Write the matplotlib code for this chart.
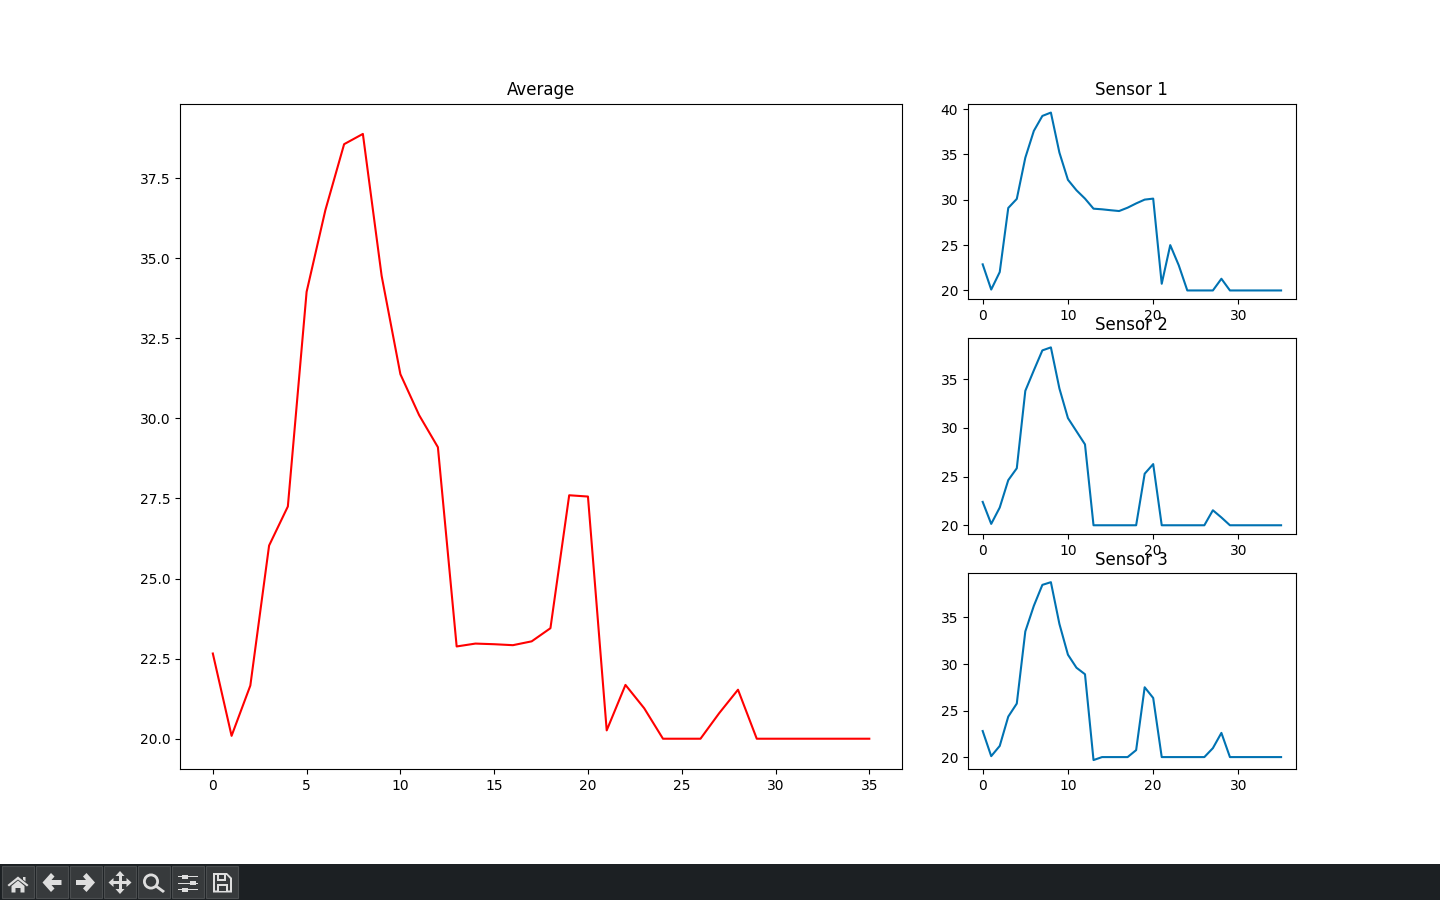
"""Average and per-sensor readings, with the viewer toolbar along the bottom."""

import matplotlib

matplotlib.use("Agg")

import matplotlib.pyplot as plt
from matplotlib.gridspec import GridSpec
from matplotlib.patches import Circle, Polygon, Rectangle

TIME = list(range(36))

AVERAGE = [
    22.66, 20.09, 21.66, 26.03, 27.25, 33.95, 36.5, 38.56, 38.88, 34.45,
    31.38, 30.1, 29.1, 22.88, 22.97, 22.95, 22.92, 23.04, 23.45, 27.6,
    27.56, 20.26, 21.68, 20.95, 20.0, 20.0, 20.0, 20.8, 21.53, 20.0,
    20.0, 20.0, 20.0, 20.0, 20.0, 20.0,
]
SENSOR_1 = [
    22.88, 20.1, 22.03, 29.1, 30.1, 34.64, 37.6, 39.25, 39.62, 35.2,
    32.2, 31.05, 30.13, 29.02, 28.95, 28.85, 28.76, 29.13, 29.6, 30.02,
    30.13, 20.74, 25.0, 22.77, 20.0, 20.0, 20.0, 20.0, 21.29, 20.0,
    20.0, 20.0, 20.0, 20.0, 20.0, 20.0,
]
SENSOR_2 = [
    22.4, 20.14, 21.82, 24.63, 25.85, 33.8, 35.9, 37.95, 38.26, 34.04,
    31.0, 29.65, 28.3, 20.0, 20.0, 20.0, 20.0, 20.0, 20.0, 25.29,
    26.28, 20.0, 20.0, 20.0, 20.0, 20.0, 20.0, 21.54, 20.8, 20.0,
    20.0, 20.0, 20.0, 20.0, 20.0, 20.0,
]
SENSOR_3 = [
    22.8, 20.1, 21.2, 24.35, 25.75, 33.5, 36.25, 38.5, 38.79, 34.3,
    31.0, 29.6, 28.9, 19.68, 20.0, 20.0, 20.0, 20.0, 20.75, 27.5,
    26.35, 20.0, 20.0, 20.0, 20.0, 20.0, 20.0, 20.96, 22.6, 20.0,
    20.0, 20.0, 20.0, 20.0, 20.0, 20.0,
]
SENSOR_TITLES = ["Sensor 1", "Sensor 2", "Sensor 3"]

SENSOR_COLOR = "#0072b2"
BAR_COLOR = "#1c2023"
BUTTON_COLOR = "#373a3c"
BUTTON_EDGE = "#4a4d4f"
ICON_COLOR = "#dedede"


def draw_icons(ax) -> None:
    def poly(points, fc=ICON_COLOR):
        ax.add_patch(Polygon(points, closed=True, fc=fc, ec="none"))

    # home
    poly([(18, 876.5), (28.5, 885), (27, 886.5), (18, 879.5), (9, 886.5), (7.5, 885)])
    poly([(11.5, 886), (18, 880.5), (24.5, 886), (24.5, 892.5), (20.5, 892.5), (20.5, 888), (15.5, 888), (15.5, 892.5), (11.5, 892.5)])
    poly([(23, 877), (25.5, 877), (25.5, 881.5), (23, 879.5)])
    # back and forward
    for cx, sign in [(52, -1), (85.5, 1)]:
        poly([
            (cx + sign * 9.5, 882.5), (cx + sign * 1, 873), (cx - sign * 2.5, 876.5), (cx + sign * 0.5, 880),
            (cx - sign * 9.5, 880), (cx - sign * 9.5, 885), (cx + sign * 0.5, 885), (cx - sign * 2.5, 888.5),
            (cx + sign * 1, 892),
        ])
    # pan
    cx, cy = 120, 882.5
    ax.add_patch(Rectangle((cx - 8, cy - 1.5), 16, 3, fc=ICON_COLOR, ec="none"))
    ax.add_patch(Rectangle((cx - 1.5, cy - 8), 3, 16, fc=ICON_COLOR, ec="none"))
    poly([(cx - 4.5, cy - 6.5), (cx, cy - 11.5), (cx + 4.5, cy - 6.5)])
    poly([(cx - 4.5, cy + 6.5), (cx, cy + 11.5), (cx + 4.5, cy + 6.5)])
    poly([(cx - 6.5, cy - 4.5), (cx - 11.5, cy), (cx - 6.5, cy + 4.5)])
    poly([(cx + 6.5, cy - 4.5), (cx + 11.5, cy), (cx + 6.5, cy + 4.5)])
    # zoom
    ax.add_patch(Circle((151, 881.5), 6.6, fc="none", ec=ICON_COLOR, lw=2.0))
    poly([(155.5, 887.5), (157.5, 885.5), (165, 891), (163, 893)])
    # sliders
    for y, knob in [(876.8, 184.5), (883.3, 193), (889.8, 185)]:
        ax.add_patch(Rectangle((178, y - 0.7), 20, 1.4, fc=ICON_COLOR, ec="none"))
        ax.add_patch(Rectangle((knob - 3, y - 2), 6, 4, fc=ICON_COLOR, ec="none"))
    # save
    poly([(213, 873), (227, 873), (232, 878), (232, 892.5), (213, 892.5)])
    poly([(215, 875), (217, 875), (217, 881), (226, 881), (226, 875), (226.5, 875), (230, 878.8), (230, 890.5), (215, 890.5)], fc=BUTTON_COLOR)
    poly([(217, 884), (228, 884), (228, 890.5), (217, 890.5)])
    poly([(218.8, 885.8), (226.2, 885.8), (226.2, 890.5), (218.8, 890.5)], fc=BUTTON_COLOR)
    poly([(218.8, 875), (224.2, 875), (224.2, 879.2), (218.8, 879.2)], fc=BUTTON_COLOR)


def draw_toolbar(fig) -> None:
    ax = fig.add_axes([0, 0, 1, 1], zorder=5)
    ax.set_xlim(0, 1440)
    ax.set_ylim(900, 0)
    ax.axis("off")
    ax.patch.set_alpha(0)

    ax.add_patch(Rectangle((0, 864), 1440, 36, fc=BAR_COLOR, ec="none"))
    for i in range(7):
        ax.add_patch(Rectangle((2.3 + 34 * i, 866), 31.6, 31.6, fc=BUTTON_COLOR, ec=BUTTON_EDGE, lw=0.8))
    draw_icons(ax)


def main() -> None:
    fig = plt.figure(figsize=(14.4, 9), dpi=100)
    gs = GridSpec(3, 3, figure=fig, left=0.125, right=0.9, bottom=131.04 / 900, top=796.32 / 900)

    ax_avg = fig.add_subplot(gs[:, :2])
    ax_avg.plot(TIME, AVERAGE, color="red")
    ax_avg.set_title("Average")

    sensors = [SENSOR_1, SENSOR_2, SENSOR_3]
    for row, (values, title) in enumerate(zip(sensors, SENSOR_TITLES)):
        ax = fig.add_subplot(gs[row, 2])
        ax.plot(TIME, values, color=SENSOR_COLOR)
        ax.set_title(title)

    draw_toolbar(fig)
    fig.savefig("out.png", dpi=100)
    plt.close(fig)


if __name__ == "__main__":
    main()
